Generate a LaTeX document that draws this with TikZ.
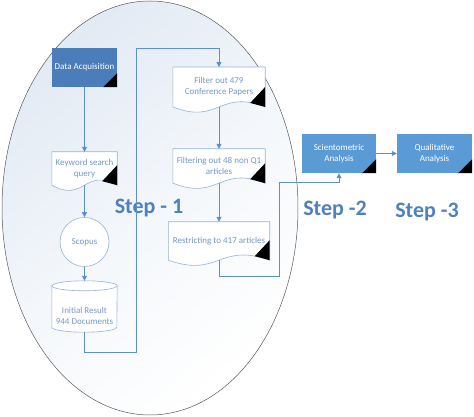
\documentclass[tikz,border=0pt]{standalone}
\usepackage{fontspec}
\setmainfont{Carlito}
\usetikzlibrary{arrows.meta,calc,backgrounds}
\definecolor{dablue}{HTML}{4A7DBA}
\definecolor{boxblue}{HTML}{5B9BD5}
\definecolor{linkblue}{HTML}{5B8FD0}
\definecolor{docline}{HTML}{95B3D7}
\definecolor{doctext}{HTML}{7298CB}
\definecolor{stepblue}{HTML}{4F81BD}
\definecolor{ellfill}{HTML}{E2EAF4}
\begin{document}
\begin{tikzpicture}[x=1pt,y=1pt,
  bluebox/.style={rectangle, minimum height=39, inner sep=1pt, text=white,
    font=\fontsize{9}{11}\selectfont, align=center},
  docbox/.style={rectangle, inner sep=1pt, text=doctext,
    font=\fontsize{9}{11}\selectfont, align=center},
  docshape/.style={draw=docline, line width=0.6pt, fill=white},
  conn/.style={draw=linkblue, line width=0.8pt, -{Triangle[length=5pt,width=5pt]}},
  steplabel/.style={text=stepblue, font=\fontsize{22}{26}\selectfont\bfseries},
  corner/.style={fill=black}]
\useasboundingbox (0,0) rectangle (474,417);

% nodes
\node[bluebox, fill=dablue, minimum width=65] (da) at (84.5,349.5) {Data Acquisition};
\node[docbox, minimum width=65, minimum height=33] (kw) at (84.5,248.5) {Keyword search\\query};
\node[circle, draw=docline, line width=0.6pt, fill=white, minimum size=49, inner sep=0pt,
      text=doctext, font=\fontsize{9}{11}\selectfont] (sc) at (84.5,175) {Scopus};
\node[rectangle, minimum width=65, minimum height=51, inner sep=0pt] (cyl) at (84.5,110.5) {};
\node[docbox] (cyltext) at (84.5,101) {Initial Result\\944 Documents};
\node[docbox, minimum width=92, minimum height=39.5] (f1) at (219,330) {Filter out 479\\Conference Papers};
\node[docbox, minimum width=92, minimum height=34] (f2) at (219,251) {Filtering out 48 non Q1\\articles};
\node[docbox, minimum width=101, minimum height=38] (rs) at (219,176) {Restricting to 417 articles};
\node[bluebox, fill=boxblue, minimum width=74] (sa) at (339,263.5) {Scientometric\\Analysis};
\node[bluebox, fill=boxblue, minimum width=75] (qa) at (434.5,263.5) {Qualitative\\Analysis};

\node[steplabel] (s1) at (149,209) {Step - 1};
\node[steplabel] (s2) at (335,207) {Step -2};
\node[steplabel] (s3) at (427,205) {Step -3};

% background: ellipse and outlined shapes
\begin{scope}[on background layer]
  \shade[top color=ellfill, bottom color=white, middle color=white!60!ellfill, shading angle=40]
    (150,209) ellipse[x radius=148, y radius=207];
  \draw[gray!70!black, line width=0.5pt] (150,209) ellipse[x radius=148, y radius=207];
  \foreach \n in {kw,f1,f2,rs} {
    \draw[docshape] (\n.north west) -- (\n.north east) -- (\n.south east)
      .. controls ($(\n.south)+(0,18)$) and ($(\n.south)+(0,-18)$) .. (\n.south west) -- cycle;
  }
  \draw[docshape]
    ($(cyl.north west)+(0,-5)$) -- ($(cyl.south west)+(0,5)$)
    arc[start angle=180, end angle=360, x radius=32.5, y radius=5]
    -- ($(cyl.north east)+(0,-5)$)
    arc[start angle=0, end angle=180, x radius=32.5, y radius=5] -- cycle;
  \draw[docshape, fill=none] ($(cyl.north west)+(0,-5)$)
    arc[start angle=180, end angle=360, x radius=32.5, y radius=5];
\end{scope}

% black corner marks
\foreach \n in {kw,f1,f2,rs} {
  \fill[corner] ($(\n.south east)+(0,20)$) -- ($(\n.south east)+(0,0)$)
    -- ($(\n.south east)+(-15,4)$) -- cycle;
}
\foreach \n in {da,sa,qa} {
  \fill[corner] (\n.south east) -- ($(\n.south east)+(0,14)$) -- ($(\n.south east)+(-14,0)$) -- cycle;
}

% connectors
\coordinate (j1) at (136,65);
\coordinate (j2) at (136,369);
\coordinate (j3) at (279,141);
\coordinate (j4) at (279,235);
\draw[conn] (da.south) -- (kw.north);
\draw[conn] (kw.south) -- (sc.north);
\draw[conn] (sc.south) -- (cyl.north);
\draw[conn] (cyl.south) |- (j1) -- (j2) -| (f1.north);
\draw[conn] (f1.south) -- (f2.north);
\draw[conn] (f2.south) -- (rs.north);
\draw[conn] (rs.south) |- (j3) -- (j4) -| (sa.south);
\draw[conn] (sa.east) -- (qa.west);
\end{tikzpicture}
\end{document}
